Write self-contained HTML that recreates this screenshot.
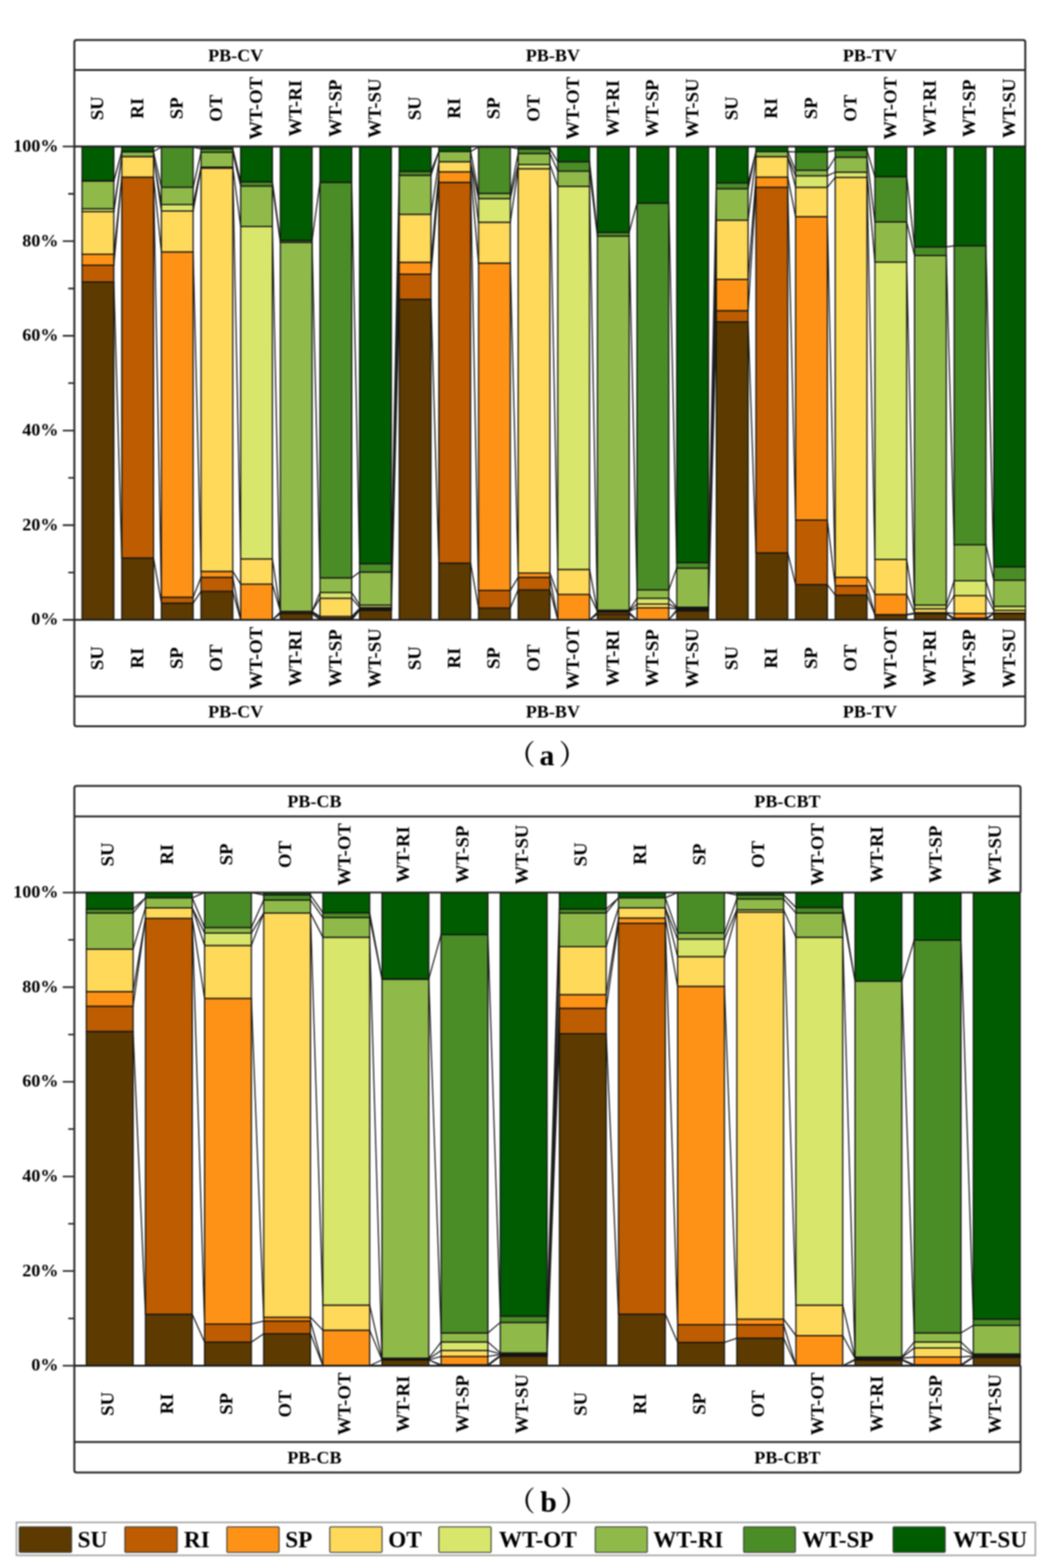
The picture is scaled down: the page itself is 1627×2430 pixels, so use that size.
<!DOCTYPE html>
<html><head><meta charset="utf-8"><title>Chart</title><style>html,body{margin:0;padding:0;background:#fff;}svg{display:block;filter:blur(1px);}</style></head><body>
<svg width="1627" height="2430" viewBox="0 0 1627 2430">
<rect width="1627" height="2430" fill="#fff"/>
<path d="M115.2,227 V65.4 Q115.2,61.9 118.7,61.9 H1585.2 Q1588.7,61.9 1588.7,65.4 V227" fill="none" stroke="#282828" stroke-width="3.0"/>
<path d="M115.2,108.6 H1588.7" stroke="#282828" stroke-width="3.0"/>
<path d="M115.2,960.6 V1122.0 Q115.2,1125.5 118.7,1125.5 H1585.2 Q1588.7,1125.5 1588.7,1122.0 V960.6" fill="none" stroke="#282828" stroke-width="3.0"/>
<path d="M115.2,1079.2 H1588.7" stroke="#282828" stroke-width="3.0"/>
<path d="M176.4,437.0L188.7,864.8M176.4,411.0L188.7,274.5M176.4,394.0L188.7,274.5M176.4,328.0L188.7,242.6M176.4,323.5L188.7,242.6M176.4,280.5L188.7,235.3M176.4,280.0L188.7,234.8M237.9,864.8L250.1,934.7M237.9,274.5L250.1,925.5M237.9,274.5L250.1,390.4M237.9,242.6L250.1,327.0M237.9,242.6L250.1,317.0M237.9,235.3L250.1,290.2M237.9,234.8L250.1,228.0M299.3,934.7L311.5,916.4M299.3,925.5L311.5,894.7M299.3,390.4L311.5,885.5M299.3,327.0L311.5,260.5M299.3,317.0L311.5,259.0M299.3,290.2L311.5,236.0M299.3,228.0L311.5,230.5M360.7,916.4L372.9,960.6M360.7,894.7L372.9,960.6M360.7,885.5L372.9,905.2M360.7,260.5L372.9,866.2M360.7,259.0L372.9,351.0M360.7,236.0L372.9,288.3M360.7,230.5L372.9,281.8M422.1,960.6L434.4,951.0M422.1,960.6L434.4,948.5M422.1,905.2L434.4,947.5M422.1,866.2L434.4,947.5M422.1,351.0L434.4,947.5M422.1,288.3L434.4,375.5M422.1,281.8L434.4,372.5M483.6,951.0L495.8,960.6M483.6,948.5L495.8,958.0M483.6,947.5L495.8,955.3M483.6,947.5L495.8,927.2M483.6,947.5L495.8,918.2M483.6,375.5L495.8,895.5M483.6,372.5L495.8,282.6M545.0,960.6L557.2,946.0M545.0,958.0L557.2,944.5M545.0,955.3L557.2,943.0M545.0,927.2L557.2,941.5M545.0,918.2L557.2,937.7M545.0,895.5L557.2,886.5M545.0,282.6L557.2,873.5M606.4,946.0L618.6,463.9M606.4,944.5L618.6,424.9M606.4,943.0L618.6,406.5M606.4,941.5L618.6,332.2M606.4,937.7L618.6,332.2M606.4,886.5L618.6,271.7M606.4,873.5L618.6,265.5M667.8,463.9L680.0,872.7M667.8,424.9L680.0,282.6M667.8,406.5L680.0,266.3M667.8,332.2L680.0,250.6M667.8,332.2L680.0,250.6M667.8,271.7L680.0,234.6M667.8,265.5L680.0,234.6M729.2,872.7L741.5,942.3M729.2,282.6L741.5,915.0M729.2,266.3L741.5,407.8M729.2,250.6L741.5,344.4M729.2,250.6L741.5,307.8M729.2,234.6L741.5,299.7M729.2,234.6L741.5,228.0M790.7,942.3L802.9,914.2M790.7,915.0L802.9,894.7M790.7,407.8L802.9,888.1M790.7,344.4L802.9,261.5M790.7,307.8L802.9,255.0M790.7,299.7L802.9,237.9M790.7,228.0L802.9,230.6M852.1,914.2L864.3,960.6M852.1,894.7L864.3,960.6M852.1,888.1L864.3,921.2M852.1,261.5L864.3,882.5M852.1,255.0L864.3,288.8M852.1,237.9L864.3,265.2M852.1,230.6L864.3,250.6M913.5,960.6L925.7,952.0M913.5,960.6L925.7,949.0M913.5,921.2L925.7,947.5M913.5,882.5L925.7,946.5M913.5,288.8L925.7,945.6M913.5,265.2L925.7,366.0M913.5,250.6L925.7,360.2M974.9,952.0L987.1,960.6M974.9,949.0L987.1,960.6M974.9,947.5L987.1,942.0M974.9,946.5L987.1,936.1M974.9,945.6L987.1,927.2M974.9,366.0L987.1,914.2M974.9,360.2L987.1,314.8M1036.3,960.6L1048.6,946.7M1036.3,960.6L1048.6,945.0M1036.3,942.0L1048.6,943.5M1036.3,936.1L1048.6,942.0M1036.3,927.2L1048.6,941.0M1036.3,914.2L1048.6,880.5M1036.3,314.8L1048.6,871.9M1097.8,946.7L1110.0,498.9M1097.8,945.0L1110.0,481.5M1097.8,943.5L1110.0,433.0M1097.8,942.0L1110.0,341.2M1097.8,941.0L1110.0,341.2M1097.8,880.5L1110.0,292.4M1097.8,871.9L1110.0,283.4M1159.2,498.9L1171.4,856.8M1159.2,481.5L1171.4,290.3M1159.2,433.0L1171.4,274.5M1159.2,341.2L1171.4,242.8M1159.2,341.2L1171.4,242.8M1159.2,292.4L1171.4,235.0M1159.2,283.4L1171.4,235.0M1220.6,856.8L1232.8,906.0M1220.6,290.3L1232.8,806.0M1220.6,274.5L1232.8,335.8M1220.6,242.8L1232.8,290.3M1220.6,242.8L1232.8,272.4M1220.6,235.0L1232.8,263.9M1220.6,235.0L1232.8,235.4M1282.0,906.0L1294.2,922.3M1282.0,806.0L1294.2,907.7M1282.0,335.8L1294.2,894.7M1282.0,290.3L1294.2,275.0M1282.0,272.4L1294.2,266.8M1282.0,263.9L1294.2,243.6M1282.0,235.4L1294.2,233.0M1343.4,922.3L1355.7,953.0M1343.4,907.7L1355.7,952.5M1343.4,894.7L1355.7,921.2M1343.4,275.0L1355.7,867.0M1343.4,266.8L1355.7,406.2M1343.4,243.6L1355.7,343.9M1343.4,233.0L1355.7,273.7M1404.9,953.0L1417.1,951.0M1404.9,952.5L1417.1,950.0M1404.9,921.2L1417.1,949.5M1404.9,867.0L1417.1,943.4M1404.9,406.2L1417.1,937.7M1404.9,343.9L1417.1,396.0M1404.9,273.7L1417.1,382.6M1466.3,951.0L1478.5,960.6M1466.3,950.0L1478.5,958.0M1466.3,949.5L1478.5,950.8M1466.3,943.4L1478.5,923.1M1466.3,937.7L1478.5,900.0M1466.3,396.0L1478.5,844.2M1466.3,382.6L1478.5,381.0M1527.7,960.6L1539.9,950.8M1527.7,958.0L1539.9,950.4M1527.7,950.8L1539.9,950.0M1527.7,923.1L1539.9,945.9M1527.7,900.0L1539.9,939.7M1527.7,844.2L1539.9,899.2M1527.7,381.0L1539.9,878.4" fill="none" stroke="#1e1e1e" stroke-width="1.8"/>
<rect x="127.2" y="437.0" width="49.2" height="523.6" fill="#5c3a00" stroke="#141414" stroke-width="1.9"/>
<rect x="127.2" y="411.0" width="49.2" height="26.0" fill="#bd5c00" stroke="#141414" stroke-width="1.9"/>
<rect x="127.2" y="394.0" width="49.2" height="17.0" fill="#fd9216" stroke="#141414" stroke-width="1.9"/>
<rect x="127.2" y="328.0" width="49.2" height="66.0" fill="#fed95a" stroke="#141414" stroke-width="1.9"/>
<rect x="127.2" y="323.5" width="49.2" height="4.5" fill="#d8e66c" stroke="#141414" stroke-width="1.9"/>
<rect x="127.2" y="280.5" width="49.2" height="43.0" fill="#8fba4a" stroke="#141414" stroke-width="1.9"/>
<rect x="127.2" y="280.0" width="49.2" height="0.5" fill="#4a8c26" stroke="#141414" stroke-width="1.9"/>
<rect x="127.2" y="227.0" width="49.2" height="53.0" fill="#005c00" stroke="#141414" stroke-width="1.9"/>
<rect x="188.7" y="864.8" width="49.2" height="95.8" fill="#5c3a00" stroke="#141414" stroke-width="1.9"/>
<rect x="188.7" y="274.5" width="49.2" height="590.3" fill="#bd5c00" stroke="#141414" stroke-width="1.9"/>
<rect x="188.7" y="242.6" width="49.2" height="31.9" fill="#fed95a" stroke="#141414" stroke-width="1.9"/>
<rect x="188.7" y="235.3" width="49.2" height="7.3" fill="#8fba4a" stroke="#141414" stroke-width="1.9"/>
<rect x="188.7" y="234.8" width="49.2" height="0.5" fill="#4a8c26" stroke="#141414" stroke-width="1.9"/>
<rect x="188.7" y="227.0" width="49.2" height="7.8" fill="#005c00" stroke="#141414" stroke-width="1.9"/>
<rect x="250.1" y="934.7" width="49.2" height="25.9" fill="#5c3a00" stroke="#141414" stroke-width="1.9"/>
<rect x="250.1" y="925.5" width="49.2" height="9.2" fill="#bd5c00" stroke="#141414" stroke-width="1.9"/>
<rect x="250.1" y="390.4" width="49.2" height="535.1" fill="#fd9216" stroke="#141414" stroke-width="1.9"/>
<rect x="250.1" y="327.0" width="49.2" height="63.4" fill="#fed95a" stroke="#141414" stroke-width="1.9"/>
<rect x="250.1" y="317.0" width="49.2" height="10.0" fill="#d8e66c" stroke="#141414" stroke-width="1.9"/>
<rect x="250.1" y="290.2" width="49.2" height="26.8" fill="#8fba4a" stroke="#141414" stroke-width="1.9"/>
<rect x="250.1" y="228.0" width="49.2" height="62.2" fill="#4a8c26" stroke="#141414" stroke-width="1.9"/>
<rect x="250.1" y="227.0" width="49.2" height="1.0" fill="#005c00" stroke="#141414" stroke-width="1.9"/>
<rect x="311.5" y="916.4" width="49.2" height="44.2" fill="#5c3a00" stroke="#141414" stroke-width="1.9"/>
<rect x="311.5" y="894.7" width="49.2" height="21.7" fill="#bd5c00" stroke="#141414" stroke-width="1.9"/>
<rect x="311.5" y="885.5" width="49.2" height="9.2" fill="#fd9216" stroke="#141414" stroke-width="1.9"/>
<rect x="311.5" y="260.5" width="49.2" height="625.0" fill="#fed95a" stroke="#141414" stroke-width="1.9"/>
<rect x="311.5" y="259.0" width="49.2" height="1.5" fill="#d8e66c" stroke="#141414" stroke-width="1.9"/>
<rect x="311.5" y="236.0" width="49.2" height="23.0" fill="#8fba4a" stroke="#141414" stroke-width="1.9"/>
<rect x="311.5" y="230.5" width="49.2" height="5.5" fill="#4a8c26" stroke="#141414" stroke-width="1.9"/>
<rect x="311.5" y="227.0" width="49.2" height="3.5" fill="#005c00" stroke="#141414" stroke-width="1.9"/>
<rect x="372.9" y="905.2" width="49.2" height="55.4" fill="#fd9216" stroke="#141414" stroke-width="1.9"/>
<rect x="372.9" y="866.2" width="49.2" height="39.0" fill="#fed95a" stroke="#141414" stroke-width="1.9"/>
<rect x="372.9" y="351.0" width="49.2" height="515.2" fill="#d8e66c" stroke="#141414" stroke-width="1.9"/>
<rect x="372.9" y="288.3" width="49.2" height="62.7" fill="#8fba4a" stroke="#141414" stroke-width="1.9"/>
<rect x="372.9" y="281.8" width="49.2" height="6.5" fill="#4a8c26" stroke="#141414" stroke-width="1.9"/>
<rect x="372.9" y="227.0" width="49.2" height="54.8" fill="#005c00" stroke="#141414" stroke-width="1.9"/>
<rect x="434.4" y="951.0" width="49.2" height="9.6" fill="#5c3a00" stroke="#141414" stroke-width="1.9"/>
<rect x="434.4" y="948.5" width="49.2" height="2.5" fill="#bd5c00" stroke="#141414" stroke-width="1.9"/>
<rect x="434.4" y="947.5" width="49.2" height="1.0" fill="#fd9216" stroke="#141414" stroke-width="1.9"/>
<rect x="434.4" y="375.5" width="49.2" height="572.0" fill="#8fba4a" stroke="#141414" stroke-width="1.9"/>
<rect x="434.4" y="372.5" width="49.2" height="3.0" fill="#4a8c26" stroke="#141414" stroke-width="1.9"/>
<rect x="434.4" y="227.0" width="49.2" height="145.5" fill="#005c00" stroke="#141414" stroke-width="1.9"/>
<rect x="495.8" y="958.0" width="49.2" height="2.6" fill="#bd5c00" stroke="#141414" stroke-width="1.9"/>
<rect x="495.8" y="955.3" width="49.2" height="2.7" fill="#fd9216" stroke="#141414" stroke-width="1.9"/>
<rect x="495.8" y="927.2" width="49.2" height="28.1" fill="#fed95a" stroke="#141414" stroke-width="1.9"/>
<rect x="495.8" y="918.2" width="49.2" height="9.0" fill="#d8e66c" stroke="#141414" stroke-width="1.9"/>
<rect x="495.8" y="895.5" width="49.2" height="22.7" fill="#8fba4a" stroke="#141414" stroke-width="1.9"/>
<rect x="495.8" y="282.6" width="49.2" height="612.9" fill="#4a8c26" stroke="#141414" stroke-width="1.9"/>
<rect x="495.8" y="227.0" width="49.2" height="55.6" fill="#005c00" stroke="#141414" stroke-width="1.9"/>
<rect x="557.2" y="946.0" width="49.2" height="14.6" fill="#5c3a00" stroke="#141414" stroke-width="1.9"/>
<rect x="557.2" y="944.5" width="49.2" height="1.5" fill="#bd5c00" stroke="#141414" stroke-width="1.9"/>
<rect x="557.2" y="943.0" width="49.2" height="1.5" fill="#fd9216" stroke="#141414" stroke-width="1.9"/>
<rect x="557.2" y="941.5" width="49.2" height="1.5" fill="#fed95a" stroke="#141414" stroke-width="1.9"/>
<rect x="557.2" y="937.7" width="49.2" height="3.8" fill="#d8e66c" stroke="#141414" stroke-width="1.9"/>
<rect x="557.2" y="886.5" width="49.2" height="51.2" fill="#8fba4a" stroke="#141414" stroke-width="1.9"/>
<rect x="557.2" y="873.5" width="49.2" height="13.0" fill="#4a8c26" stroke="#141414" stroke-width="1.9"/>
<rect x="557.2" y="227.0" width="49.2" height="646.5" fill="#005c00" stroke="#141414" stroke-width="1.9"/>
<rect x="618.6" y="463.9" width="49.2" height="496.7" fill="#5c3a00" stroke="#141414" stroke-width="1.9"/>
<rect x="618.6" y="424.9" width="49.2" height="39.0" fill="#bd5c00" stroke="#141414" stroke-width="1.9"/>
<rect x="618.6" y="406.5" width="49.2" height="18.4" fill="#fd9216" stroke="#141414" stroke-width="1.9"/>
<rect x="618.6" y="332.2" width="49.2" height="74.3" fill="#fed95a" stroke="#141414" stroke-width="1.9"/>
<rect x="618.6" y="271.7" width="49.2" height="60.5" fill="#8fba4a" stroke="#141414" stroke-width="1.9"/>
<rect x="618.6" y="265.5" width="49.2" height="6.2" fill="#4a8c26" stroke="#141414" stroke-width="1.9"/>
<rect x="618.6" y="227.0" width="49.2" height="38.5" fill="#005c00" stroke="#141414" stroke-width="1.9"/>
<rect x="680.0" y="872.7" width="49.2" height="87.9" fill="#5c3a00" stroke="#141414" stroke-width="1.9"/>
<rect x="680.0" y="282.6" width="49.2" height="590.1" fill="#bd5c00" stroke="#141414" stroke-width="1.9"/>
<rect x="680.0" y="266.3" width="49.2" height="16.3" fill="#fd9216" stroke="#141414" stroke-width="1.9"/>
<rect x="680.0" y="250.6" width="49.2" height="15.7" fill="#fed95a" stroke="#141414" stroke-width="1.9"/>
<rect x="680.0" y="234.6" width="49.2" height="16.0" fill="#8fba4a" stroke="#141414" stroke-width="1.9"/>
<rect x="680.0" y="227.0" width="49.2" height="7.6" fill="#005c00" stroke="#141414" stroke-width="1.9"/>
<rect x="741.5" y="942.3" width="49.2" height="18.3" fill="#5c3a00" stroke="#141414" stroke-width="1.9"/>
<rect x="741.5" y="915.0" width="49.2" height="27.3" fill="#bd5c00" stroke="#141414" stroke-width="1.9"/>
<rect x="741.5" y="407.8" width="49.2" height="507.2" fill="#fd9216" stroke="#141414" stroke-width="1.9"/>
<rect x="741.5" y="344.4" width="49.2" height="63.4" fill="#fed95a" stroke="#141414" stroke-width="1.9"/>
<rect x="741.5" y="307.8" width="49.2" height="36.6" fill="#d8e66c" stroke="#141414" stroke-width="1.9"/>
<rect x="741.5" y="299.7" width="49.2" height="8.1" fill="#8fba4a" stroke="#141414" stroke-width="1.9"/>
<rect x="741.5" y="228.0" width="49.2" height="71.7" fill="#4a8c26" stroke="#141414" stroke-width="1.9"/>
<rect x="741.5" y="227.0" width="49.2" height="1.0" fill="#005c00" stroke="#141414" stroke-width="1.9"/>
<rect x="802.9" y="914.2" width="49.2" height="46.4" fill="#5c3a00" stroke="#141414" stroke-width="1.9"/>
<rect x="802.9" y="894.7" width="49.2" height="19.5" fill="#bd5c00" stroke="#141414" stroke-width="1.9"/>
<rect x="802.9" y="888.1" width="49.2" height="6.6" fill="#fd9216" stroke="#141414" stroke-width="1.9"/>
<rect x="802.9" y="261.5" width="49.2" height="626.6" fill="#fed95a" stroke="#141414" stroke-width="1.9"/>
<rect x="802.9" y="255.0" width="49.2" height="6.5" fill="#d8e66c" stroke="#141414" stroke-width="1.9"/>
<rect x="802.9" y="237.9" width="49.2" height="17.1" fill="#8fba4a" stroke="#141414" stroke-width="1.9"/>
<rect x="802.9" y="230.6" width="49.2" height="7.3" fill="#4a8c26" stroke="#141414" stroke-width="1.9"/>
<rect x="802.9" y="227.0" width="49.2" height="3.6" fill="#005c00" stroke="#141414" stroke-width="1.9"/>
<rect x="864.3" y="921.2" width="49.2" height="39.4" fill="#fd9216" stroke="#141414" stroke-width="1.9"/>
<rect x="864.3" y="882.5" width="49.2" height="38.7" fill="#fed95a" stroke="#141414" stroke-width="1.9"/>
<rect x="864.3" y="288.8" width="49.2" height="593.7" fill="#d8e66c" stroke="#141414" stroke-width="1.9"/>
<rect x="864.3" y="265.2" width="49.2" height="23.6" fill="#8fba4a" stroke="#141414" stroke-width="1.9"/>
<rect x="864.3" y="250.6" width="49.2" height="14.6" fill="#4a8c26" stroke="#141414" stroke-width="1.9"/>
<rect x="864.3" y="227.0" width="49.2" height="23.6" fill="#005c00" stroke="#141414" stroke-width="1.9"/>
<rect x="925.7" y="952.0" width="49.2" height="8.6" fill="#5c3a00" stroke="#141414" stroke-width="1.9"/>
<rect x="925.7" y="949.0" width="49.2" height="3.0" fill="#bd5c00" stroke="#141414" stroke-width="1.9"/>
<rect x="925.7" y="947.5" width="49.2" height="1.5" fill="#fd9216" stroke="#141414" stroke-width="1.9"/>
<rect x="925.7" y="946.5" width="49.2" height="1.0" fill="#fed95a" stroke="#141414" stroke-width="1.9"/>
<rect x="925.7" y="945.6" width="49.2" height="0.9" fill="#d8e66c" stroke="#141414" stroke-width="1.9"/>
<rect x="925.7" y="366.0" width="49.2" height="579.6" fill="#8fba4a" stroke="#141414" stroke-width="1.9"/>
<rect x="925.7" y="360.2" width="49.2" height="5.8" fill="#4a8c26" stroke="#141414" stroke-width="1.9"/>
<rect x="925.7" y="227.0" width="49.2" height="133.2" fill="#005c00" stroke="#141414" stroke-width="1.9"/>
<rect x="987.1" y="942.0" width="49.2" height="18.6" fill="#fd9216" stroke="#141414" stroke-width="1.9"/>
<rect x="987.1" y="936.1" width="49.2" height="5.9" fill="#fed95a" stroke="#141414" stroke-width="1.9"/>
<rect x="987.1" y="927.2" width="49.2" height="8.9" fill="#d8e66c" stroke="#141414" stroke-width="1.9"/>
<rect x="987.1" y="914.2" width="49.2" height="13.0" fill="#8fba4a" stroke="#141414" stroke-width="1.9"/>
<rect x="987.1" y="314.8" width="49.2" height="599.4" fill="#4a8c26" stroke="#141414" stroke-width="1.9"/>
<rect x="987.1" y="227.0" width="49.2" height="87.8" fill="#005c00" stroke="#141414" stroke-width="1.9"/>
<rect x="1048.6" y="946.7" width="49.2" height="13.9" fill="#5c3a00" stroke="#141414" stroke-width="1.9"/>
<rect x="1048.6" y="945.0" width="49.2" height="1.7" fill="#bd5c00" stroke="#141414" stroke-width="1.9"/>
<rect x="1048.6" y="943.5" width="49.2" height="1.5" fill="#fd9216" stroke="#141414" stroke-width="1.9"/>
<rect x="1048.6" y="942.0" width="49.2" height="1.5" fill="#fed95a" stroke="#141414" stroke-width="1.9"/>
<rect x="1048.6" y="941.0" width="49.2" height="1.0" fill="#d8e66c" stroke="#141414" stroke-width="1.9"/>
<rect x="1048.6" y="880.5" width="49.2" height="60.5" fill="#8fba4a" stroke="#141414" stroke-width="1.9"/>
<rect x="1048.6" y="871.9" width="49.2" height="8.6" fill="#4a8c26" stroke="#141414" stroke-width="1.9"/>
<rect x="1048.6" y="227.0" width="49.2" height="644.9" fill="#005c00" stroke="#141414" stroke-width="1.9"/>
<rect x="1110.0" y="498.9" width="49.2" height="461.7" fill="#5c3a00" stroke="#141414" stroke-width="1.9"/>
<rect x="1110.0" y="481.5" width="49.2" height="17.4" fill="#bd5c00" stroke="#141414" stroke-width="1.9"/>
<rect x="1110.0" y="433.0" width="49.2" height="48.5" fill="#fd9216" stroke="#141414" stroke-width="1.9"/>
<rect x="1110.0" y="341.2" width="49.2" height="91.8" fill="#fed95a" stroke="#141414" stroke-width="1.9"/>
<rect x="1110.0" y="292.4" width="49.2" height="48.8" fill="#8fba4a" stroke="#141414" stroke-width="1.9"/>
<rect x="1110.0" y="283.4" width="49.2" height="9.0" fill="#4a8c26" stroke="#141414" stroke-width="1.9"/>
<rect x="1110.0" y="227.0" width="49.2" height="56.4" fill="#005c00" stroke="#141414" stroke-width="1.9"/>
<rect x="1171.4" y="856.8" width="49.2" height="103.8" fill="#5c3a00" stroke="#141414" stroke-width="1.9"/>
<rect x="1171.4" y="290.3" width="49.2" height="566.5" fill="#bd5c00" stroke="#141414" stroke-width="1.9"/>
<rect x="1171.4" y="274.5" width="49.2" height="15.8" fill="#fd9216" stroke="#141414" stroke-width="1.9"/>
<rect x="1171.4" y="242.8" width="49.2" height="31.7" fill="#fed95a" stroke="#141414" stroke-width="1.9"/>
<rect x="1171.4" y="235.0" width="49.2" height="7.8" fill="#8fba4a" stroke="#141414" stroke-width="1.9"/>
<rect x="1171.4" y="227.0" width="49.2" height="8.0" fill="#005c00" stroke="#141414" stroke-width="1.9"/>
<rect x="1232.8" y="906.0" width="49.2" height="54.6" fill="#5c3a00" stroke="#141414" stroke-width="1.9"/>
<rect x="1232.8" y="806.0" width="49.2" height="100.0" fill="#bd5c00" stroke="#141414" stroke-width="1.9"/>
<rect x="1232.8" y="335.8" width="49.2" height="470.2" fill="#fd9216" stroke="#141414" stroke-width="1.9"/>
<rect x="1232.8" y="290.3" width="49.2" height="45.5" fill="#fed95a" stroke="#141414" stroke-width="1.9"/>
<rect x="1232.8" y="272.4" width="49.2" height="17.9" fill="#d8e66c" stroke="#141414" stroke-width="1.9"/>
<rect x="1232.8" y="263.9" width="49.2" height="8.5" fill="#8fba4a" stroke="#141414" stroke-width="1.9"/>
<rect x="1232.8" y="235.4" width="49.2" height="28.5" fill="#4a8c26" stroke="#141414" stroke-width="1.9"/>
<rect x="1232.8" y="227.0" width="49.2" height="8.4" fill="#005c00" stroke="#141414" stroke-width="1.9"/>
<rect x="1294.2" y="922.3" width="49.2" height="38.3" fill="#5c3a00" stroke="#141414" stroke-width="1.9"/>
<rect x="1294.2" y="907.7" width="49.2" height="14.6" fill="#bd5c00" stroke="#141414" stroke-width="1.9"/>
<rect x="1294.2" y="894.7" width="49.2" height="13.0" fill="#fd9216" stroke="#141414" stroke-width="1.9"/>
<rect x="1294.2" y="275.0" width="49.2" height="619.7" fill="#fed95a" stroke="#141414" stroke-width="1.9"/>
<rect x="1294.2" y="266.8" width="49.2" height="8.2" fill="#d8e66c" stroke="#141414" stroke-width="1.9"/>
<rect x="1294.2" y="243.6" width="49.2" height="23.2" fill="#8fba4a" stroke="#141414" stroke-width="1.9"/>
<rect x="1294.2" y="233.0" width="49.2" height="10.6" fill="#4a8c26" stroke="#141414" stroke-width="1.9"/>
<rect x="1294.2" y="227.0" width="49.2" height="6.0" fill="#005c00" stroke="#141414" stroke-width="1.9"/>
<rect x="1355.7" y="953.0" width="49.2" height="7.6" fill="#5c3a00" stroke="#141414" stroke-width="1.9"/>
<rect x="1355.7" y="952.5" width="49.2" height="0.5" fill="#bd5c00" stroke="#141414" stroke-width="1.9"/>
<rect x="1355.7" y="921.2" width="49.2" height="31.3" fill="#fd9216" stroke="#141414" stroke-width="1.9"/>
<rect x="1355.7" y="867.0" width="49.2" height="54.2" fill="#fed95a" stroke="#141414" stroke-width="1.9"/>
<rect x="1355.7" y="406.2" width="49.2" height="460.8" fill="#d8e66c" stroke="#141414" stroke-width="1.9"/>
<rect x="1355.7" y="343.9" width="49.2" height="62.3" fill="#8fba4a" stroke="#141414" stroke-width="1.9"/>
<rect x="1355.7" y="273.7" width="49.2" height="70.2" fill="#4a8c26" stroke="#141414" stroke-width="1.9"/>
<rect x="1355.7" y="227.0" width="49.2" height="46.7" fill="#005c00" stroke="#141414" stroke-width="1.9"/>
<rect x="1417.1" y="951.0" width="49.2" height="9.6" fill="#5c3a00" stroke="#141414" stroke-width="1.9"/>
<rect x="1417.1" y="950.0" width="49.2" height="1.0" fill="#bd5c00" stroke="#141414" stroke-width="1.9"/>
<rect x="1417.1" y="949.5" width="49.2" height="0.5" fill="#fd9216" stroke="#141414" stroke-width="1.9"/>
<rect x="1417.1" y="943.4" width="49.2" height="6.1" fill="#fed95a" stroke="#141414" stroke-width="1.9"/>
<rect x="1417.1" y="937.7" width="49.2" height="5.7" fill="#d8e66c" stroke="#141414" stroke-width="1.9"/>
<rect x="1417.1" y="396.0" width="49.2" height="541.7" fill="#8fba4a" stroke="#141414" stroke-width="1.9"/>
<rect x="1417.1" y="382.6" width="49.2" height="13.4" fill="#4a8c26" stroke="#141414" stroke-width="1.9"/>
<rect x="1417.1" y="227.0" width="49.2" height="155.6" fill="#005c00" stroke="#141414" stroke-width="1.9"/>
<rect x="1478.5" y="958.0" width="49.2" height="2.6" fill="#bd5c00" stroke="#141414" stroke-width="1.9"/>
<rect x="1478.5" y="950.8" width="49.2" height="7.2" fill="#fd9216" stroke="#141414" stroke-width="1.9"/>
<rect x="1478.5" y="923.1" width="49.2" height="27.7" fill="#fed95a" stroke="#141414" stroke-width="1.9"/>
<rect x="1478.5" y="900.0" width="49.2" height="23.1" fill="#d8e66c" stroke="#141414" stroke-width="1.9"/>
<rect x="1478.5" y="844.2" width="49.2" height="55.8" fill="#8fba4a" stroke="#141414" stroke-width="1.9"/>
<rect x="1478.5" y="381.0" width="49.2" height="463.2" fill="#4a8c26" stroke="#141414" stroke-width="1.9"/>
<rect x="1478.5" y="227.0" width="49.2" height="154.0" fill="#005c00" stroke="#141414" stroke-width="1.9"/>
<rect x="1539.9" y="950.8" width="49.2" height="9.8" fill="#5c3a00" stroke="#141414" stroke-width="1.9"/>
<rect x="1539.9" y="950.4" width="49.2" height="0.4" fill="#bd5c00" stroke="#141414" stroke-width="1.9"/>
<rect x="1539.9" y="950.0" width="49.2" height="0.4" fill="#fd9216" stroke="#141414" stroke-width="1.9"/>
<rect x="1539.9" y="945.9" width="49.2" height="4.1" fill="#fed95a" stroke="#141414" stroke-width="1.9"/>
<rect x="1539.9" y="939.7" width="49.2" height="6.2" fill="#d8e66c" stroke="#141414" stroke-width="1.9"/>
<rect x="1539.9" y="899.2" width="49.2" height="40.5" fill="#8fba4a" stroke="#141414" stroke-width="1.9"/>
<rect x="1539.9" y="878.4" width="49.2" height="20.8" fill="#4a8c26" stroke="#141414" stroke-width="1.9"/>
<rect x="1539.9" y="227.0" width="49.2" height="651.4" fill="#005c00" stroke="#141414" stroke-width="1.9"/>
<path d="M115.2,227 V960.6" stroke="#282828" stroke-width="3.0"/>
<path d="M115.2,227 H1588.7 M115.2,960.6 H1588.7" stroke="#1e1e1e" stroke-width="2.8"/>
<path d="M97.2,960.6H115.2M105.7,887.2H115.2M97.2,813.9H115.2M105.7,740.5H115.2M97.2,667.2H115.2M105.7,593.8H115.2M97.2,520.4H115.2M105.7,447.1H115.2M97.2,373.7H115.2M105.7,300.4H115.2M97.2,227.0H115.2" stroke="#282828" stroke-width="2.6"/>
<text x="90.5" y="968.4" text-anchor="end" font-size="28" font-family="'Liberation Serif','Times New Roman',serif" font-weight="bold">0%</text>
<text x="90.5" y="821.7" text-anchor="end" font-size="28" font-family="'Liberation Serif','Times New Roman',serif" font-weight="bold">20%</text>
<text x="90.5" y="675.0" text-anchor="end" font-size="28" font-family="'Liberation Serif','Times New Roman',serif" font-weight="bold">40%</text>
<text x="90.5" y="528.2" text-anchor="end" font-size="28" font-family="'Liberation Serif','Times New Roman',serif" font-weight="bold">60%</text>
<text x="90.5" y="381.5" text-anchor="end" font-size="28" font-family="'Liberation Serif','Times New Roman',serif" font-weight="bold">80%</text>
<text x="90.5" y="234.8" text-anchor="end" font-size="28" font-family="'Liberation Serif','Times New Roman',serif" font-weight="bold">100%</text>
<text transform="translate(150.3,167.8) rotate(-90)" text-anchor="middle" y="9.8" font-size="29" font-family="'Liberation Serif','Times New Roman',serif" font-weight="bold">SU</text>
<text transform="translate(150.3,1019.9) rotate(-90)" text-anchor="middle" y="9.8" font-size="29" font-family="'Liberation Serif','Times New Roman',serif" font-weight="bold">SU</text>
<text transform="translate(211.8,167.8) rotate(-90)" text-anchor="middle" y="9.8" font-size="29" font-family="'Liberation Serif','Times New Roman',serif" font-weight="bold">RI</text>
<text transform="translate(211.8,1019.9) rotate(-90)" text-anchor="middle" y="9.8" font-size="29" font-family="'Liberation Serif','Times New Roman',serif" font-weight="bold">RI</text>
<text transform="translate(273.2,167.8) rotate(-90)" text-anchor="middle" y="9.8" font-size="29" font-family="'Liberation Serif','Times New Roman',serif" font-weight="bold">SP</text>
<text transform="translate(273.2,1019.9) rotate(-90)" text-anchor="middle" y="9.8" font-size="29" font-family="'Liberation Serif','Times New Roman',serif" font-weight="bold">SP</text>
<text transform="translate(334.6,167.8) rotate(-90)" text-anchor="middle" y="9.8" font-size="29" font-family="'Liberation Serif','Times New Roman',serif" font-weight="bold">OT</text>
<text transform="translate(334.6,1019.9) rotate(-90)" text-anchor="middle" y="9.8" font-size="29" font-family="'Liberation Serif','Times New Roman',serif" font-weight="bold">OT</text>
<text transform="translate(396.0,167.8) rotate(-90)" text-anchor="middle" y="9.8" font-size="29" font-family="'Liberation Serif','Times New Roman',serif" font-weight="bold">WT-OT</text>
<text transform="translate(396.0,1019.9) rotate(-90)" text-anchor="middle" y="9.8" font-size="29" font-family="'Liberation Serif','Times New Roman',serif" font-weight="bold">WT-OT</text>
<text transform="translate(457.5,167.8) rotate(-90)" text-anchor="middle" y="9.8" font-size="29" font-family="'Liberation Serif','Times New Roman',serif" font-weight="bold">WT-RI</text>
<text transform="translate(457.5,1019.9) rotate(-90)" text-anchor="middle" y="9.8" font-size="29" font-family="'Liberation Serif','Times New Roman',serif" font-weight="bold">WT-RI</text>
<text transform="translate(518.9,167.8) rotate(-90)" text-anchor="middle" y="9.8" font-size="29" font-family="'Liberation Serif','Times New Roman',serif" font-weight="bold">WT-SP</text>
<text transform="translate(518.9,1019.9) rotate(-90)" text-anchor="middle" y="9.8" font-size="29" font-family="'Liberation Serif','Times New Roman',serif" font-weight="bold">WT-SP</text>
<text transform="translate(580.3,167.8) rotate(-90)" text-anchor="middle" y="9.8" font-size="29" font-family="'Liberation Serif','Times New Roman',serif" font-weight="bold">WT-SU</text>
<text transform="translate(580.3,1019.9) rotate(-90)" text-anchor="middle" y="9.8" font-size="29" font-family="'Liberation Serif','Times New Roman',serif" font-weight="bold">WT-SU</text>
<text transform="translate(641.7,167.8) rotate(-90)" text-anchor="middle" y="9.8" font-size="29" font-family="'Liberation Serif','Times New Roman',serif" font-weight="bold">SU</text>
<text transform="translate(641.7,1019.9) rotate(-90)" text-anchor="middle" y="9.8" font-size="29" font-family="'Liberation Serif','Times New Roman',serif" font-weight="bold">SU</text>
<text transform="translate(703.1,167.8) rotate(-90)" text-anchor="middle" y="9.8" font-size="29" font-family="'Liberation Serif','Times New Roman',serif" font-weight="bold">RI</text>
<text transform="translate(703.1,1019.9) rotate(-90)" text-anchor="middle" y="9.8" font-size="29" font-family="'Liberation Serif','Times New Roman',serif" font-weight="bold">RI</text>
<text transform="translate(764.6,167.8) rotate(-90)" text-anchor="middle" y="9.8" font-size="29" font-family="'Liberation Serif','Times New Roman',serif" font-weight="bold">SP</text>
<text transform="translate(764.6,1019.9) rotate(-90)" text-anchor="middle" y="9.8" font-size="29" font-family="'Liberation Serif','Times New Roman',serif" font-weight="bold">SP</text>
<text transform="translate(826.0,167.8) rotate(-90)" text-anchor="middle" y="9.8" font-size="29" font-family="'Liberation Serif','Times New Roman',serif" font-weight="bold">OT</text>
<text transform="translate(826.0,1019.9) rotate(-90)" text-anchor="middle" y="9.8" font-size="29" font-family="'Liberation Serif','Times New Roman',serif" font-weight="bold">OT</text>
<text transform="translate(887.4,167.8) rotate(-90)" text-anchor="middle" y="9.8" font-size="29" font-family="'Liberation Serif','Times New Roman',serif" font-weight="bold">WT-OT</text>
<text transform="translate(887.4,1019.9) rotate(-90)" text-anchor="middle" y="9.8" font-size="29" font-family="'Liberation Serif','Times New Roman',serif" font-weight="bold">WT-OT</text>
<text transform="translate(948.8,167.8) rotate(-90)" text-anchor="middle" y="9.8" font-size="29" font-family="'Liberation Serif','Times New Roman',serif" font-weight="bold">WT-RI</text>
<text transform="translate(948.8,1019.9) rotate(-90)" text-anchor="middle" y="9.8" font-size="29" font-family="'Liberation Serif','Times New Roman',serif" font-weight="bold">WT-RI</text>
<text transform="translate(1010.2,167.8) rotate(-90)" text-anchor="middle" y="9.8" font-size="29" font-family="'Liberation Serif','Times New Roman',serif" font-weight="bold">WT-SP</text>
<text transform="translate(1010.2,1019.9) rotate(-90)" text-anchor="middle" y="9.8" font-size="29" font-family="'Liberation Serif','Times New Roman',serif" font-weight="bold">WT-SP</text>
<text transform="translate(1071.7,167.8) rotate(-90)" text-anchor="middle" y="9.8" font-size="29" font-family="'Liberation Serif','Times New Roman',serif" font-weight="bold">WT-SU</text>
<text transform="translate(1071.7,1019.9) rotate(-90)" text-anchor="middle" y="9.8" font-size="29" font-family="'Liberation Serif','Times New Roman',serif" font-weight="bold">WT-SU</text>
<text transform="translate(1133.1,167.8) rotate(-90)" text-anchor="middle" y="9.8" font-size="29" font-family="'Liberation Serif','Times New Roman',serif" font-weight="bold">SU</text>
<text transform="translate(1133.1,1019.9) rotate(-90)" text-anchor="middle" y="9.8" font-size="29" font-family="'Liberation Serif','Times New Roman',serif" font-weight="bold">SU</text>
<text transform="translate(1194.5,167.8) rotate(-90)" text-anchor="middle" y="9.8" font-size="29" font-family="'Liberation Serif','Times New Roman',serif" font-weight="bold">RI</text>
<text transform="translate(1194.5,1019.9) rotate(-90)" text-anchor="middle" y="9.8" font-size="29" font-family="'Liberation Serif','Times New Roman',serif" font-weight="bold">RI</text>
<text transform="translate(1255.9,167.8) rotate(-90)" text-anchor="middle" y="9.8" font-size="29" font-family="'Liberation Serif','Times New Roman',serif" font-weight="bold">SP</text>
<text transform="translate(1255.9,1019.9) rotate(-90)" text-anchor="middle" y="9.8" font-size="29" font-family="'Liberation Serif','Times New Roman',serif" font-weight="bold">SP</text>
<text transform="translate(1317.3,167.8) rotate(-90)" text-anchor="middle" y="9.8" font-size="29" font-family="'Liberation Serif','Times New Roman',serif" font-weight="bold">OT</text>
<text transform="translate(1317.3,1019.9) rotate(-90)" text-anchor="middle" y="9.8" font-size="29" font-family="'Liberation Serif','Times New Roman',serif" font-weight="bold">OT</text>
<text transform="translate(1378.8,167.8) rotate(-90)" text-anchor="middle" y="9.8" font-size="29" font-family="'Liberation Serif','Times New Roman',serif" font-weight="bold">WT-OT</text>
<text transform="translate(1378.8,1019.9) rotate(-90)" text-anchor="middle" y="9.8" font-size="29" font-family="'Liberation Serif','Times New Roman',serif" font-weight="bold">WT-OT</text>
<text transform="translate(1440.2,167.8) rotate(-90)" text-anchor="middle" y="9.8" font-size="29" font-family="'Liberation Serif','Times New Roman',serif" font-weight="bold">WT-RI</text>
<text transform="translate(1440.2,1019.9) rotate(-90)" text-anchor="middle" y="9.8" font-size="29" font-family="'Liberation Serif','Times New Roman',serif" font-weight="bold">WT-RI</text>
<text transform="translate(1501.6,167.8) rotate(-90)" text-anchor="middle" y="9.8" font-size="29" font-family="'Liberation Serif','Times New Roman',serif" font-weight="bold">WT-SP</text>
<text transform="translate(1501.6,1019.9) rotate(-90)" text-anchor="middle" y="9.8" font-size="29" font-family="'Liberation Serif','Times New Roman',serif" font-weight="bold">WT-SP</text>
<text transform="translate(1563.0,167.8) rotate(-90)" text-anchor="middle" y="9.8" font-size="29" font-family="'Liberation Serif','Times New Roman',serif" font-weight="bold">WT-SU</text>
<text transform="translate(1563.0,1019.9) rotate(-90)" text-anchor="middle" y="9.8" font-size="29" font-family="'Liberation Serif','Times New Roman',serif" font-weight="bold">WT-SU</text>
<text x="365.3" y="94.8" text-anchor="middle" font-size="28" font-family="'Liberation Serif','Times New Roman',serif" font-weight="bold">PB-CV</text>
<text x="365.3" y="1111.8" text-anchor="middle" font-size="28" font-family="'Liberation Serif','Times New Roman',serif" font-weight="bold">PB-CV</text>
<text x="856.7" y="94.8" text-anchor="middle" font-size="28" font-family="'Liberation Serif','Times New Roman',serif" font-weight="bold">PB-BV</text>
<text x="856.7" y="1111.8" text-anchor="middle" font-size="28" font-family="'Liberation Serif','Times New Roman',serif" font-weight="bold">PB-BV</text>
<text x="1348.0" y="94.8" text-anchor="middle" font-size="28" font-family="'Liberation Serif','Times New Roman',serif" font-weight="bold">PB-TV</text>
<text x="1348.0" y="1111.8" text-anchor="middle" font-size="28" font-family="'Liberation Serif','Times New Roman',serif" font-weight="bold">PB-TV</text>
<path d="M115.2,1383.2 V1221.4 Q115.2,1217.9 118.7,1217.9 H1577.8 Q1581.3,1217.9 1581.3,1221.4 V1383.2" fill="none" stroke="#282828" stroke-width="3.0"/>
<path d="M115.2,1265.2 H1581.3" stroke="#282828" stroke-width="3.0"/>
<path d="M115.2,2116.5 V2278.5 Q115.2,2282 118.7,2282 H1577.8 Q1581.3,2282 1581.3,2278.5 V2116.5" fill="none" stroke="#282828" stroke-width="3.0"/>
<path d="M115.2,2234.8 H1581.3" stroke="#282828" stroke-width="3.0"/>
<path d="M206.2,1598.5L225.4,2036.8M206.2,1559.4L225.4,1423.2M206.2,1536.8L225.4,1423.2M206.2,1470.9L225.4,1406.9M206.2,1470.9L225.4,1406.9M206.2,1415.0L225.4,1391.3M206.2,1408.8L225.4,1391.3M297.9,2036.8L317.0,2079.9M297.9,1423.2L317.0,2051.9M297.9,1423.2L317.0,1547.3M297.9,1406.9L317.0,1465.3M297.9,1406.9L317.0,1446.0M297.9,1391.3L317.0,1437.4M297.9,1391.3L317.0,1383.2M389.5,2079.9L408.6,2067.0M389.5,2051.9L408.6,2047.3M389.5,1547.3L408.6,2041.4M389.5,1465.3L408.6,1415.0M389.5,1446.0L408.6,1415.0M389.5,1437.4L408.6,1394.8M389.5,1383.2L408.6,1387.0M481.1,2067.0L500.3,2116.5M481.1,2047.3L500.3,2116.5M481.1,2041.4L500.3,2061.5M481.1,1415.0L500.3,2022.6M481.1,1415.0L500.3,1452.5M481.1,1394.8L500.3,1422.0M481.1,1387.0L500.3,1414.6M572.8,2116.5L591.9,2107.5M572.8,2116.5L591.9,2107.5M572.8,2061.5L591.9,2107.5M572.8,2022.6L591.9,2106.0M572.8,1452.5L591.9,2104.8M572.8,1422.0L591.9,1517.5M572.8,1414.6L591.9,1517.0M664.4,2107.5L683.5,2116.5M664.4,2107.5L683.5,2115.0M664.4,2107.5L683.5,2102.2M664.4,2106.0L683.5,2092.9M664.4,2104.8L683.5,2079.7M664.4,1517.5L683.5,2065.7M664.4,1517.0L683.5,1448.3M756.0,2116.5L775.2,2102.0M756.0,2115.0L775.2,2100.5M756.0,2102.2L775.2,2099.0M756.0,2092.9L775.2,2098.0M756.0,2079.7L775.2,2096.7M756.0,2065.7L775.2,2049.4M756.0,1448.3L775.2,2039.6M847.7,2102.0L866.8,1602.0M847.7,2100.5L866.8,1562.6M847.7,2099.0L866.8,1541.4M847.7,2098.0L866.8,1467.0M847.7,2096.7L866.8,1467.0M847.7,2049.4L866.8,1415.0M847.7,2039.6L866.8,1408.8M939.3,1602.0L958.4,2036.6M939.3,1562.6L958.4,1430.9M939.3,1541.4L958.4,1422.7M939.3,1467.0L958.4,1406.9M939.3,1467.0L958.4,1406.9M939.3,1415.0L958.4,1391.3M939.3,1408.8L958.4,1391.3M1030.9,2036.6L1050.0,2080.4M1030.9,1430.9L1050.0,2052.9M1030.9,1422.7L1050.0,1528.6M1030.9,1406.9L1050.0,1482.5M1030.9,1406.9L1050.0,1455.3M1030.9,1391.3L1050.0,1446.0M1030.9,1391.3L1050.0,1383.2M1122.5,2080.4L1141.7,2073.8M1122.5,2052.9L1141.7,2052.9M1122.5,1528.6L1141.7,2044.3M1122.5,1482.5L1141.7,1413.4M1122.5,1455.3L1141.7,1410.0M1122.5,1446.0L1141.7,1393.2M1122.5,1383.2L1141.7,1387.0M1214.2,2073.8L1233.3,2116.5M1214.2,2052.9L1233.3,2116.5M1214.2,2044.3L1233.3,2069.9M1214.2,1413.4L1233.3,2022.6M1214.2,1410.0L1233.3,1452.5M1214.2,1393.2L1233.3,1415.0M1214.2,1387.0L1233.3,1406.4M1305.8,2116.5L1324.9,2108.0M1305.8,2116.5L1324.9,2106.5M1305.8,2069.9L1324.9,2105.0M1305.8,2022.6L1324.9,2104.0M1305.8,1452.5L1324.9,2103.0M1305.8,1415.0L1324.9,1520.5M1305.8,1406.4L1324.9,1520.5M1397.4,2108.0L1416.6,2116.5M1397.4,2106.5L1416.6,2115.0M1397.4,2105.0L1416.6,2103.0M1397.4,2104.0L1416.6,2089.0M1397.4,2103.0L1416.6,2079.7M1397.4,1520.5L1416.6,2065.7M1397.4,1520.5L1416.6,1457.0M1489.1,2116.5L1508.2,2103.4M1489.1,2115.0L1508.2,2102.5M1489.1,2103.0L1508.2,2101.5M1489.1,2089.0L1508.2,2100.0M1489.1,2079.7L1508.2,2098.3M1489.1,2065.7L1508.2,2054.0M1489.1,1457.0L1508.2,2044.3" fill="none" stroke="#1e1e1e" stroke-width="1.8"/>
<rect x="133.8" y="1598.5" width="72.5" height="518.0" fill="#5c3a00" stroke="#141414" stroke-width="1.9"/>
<rect x="133.8" y="1559.4" width="72.5" height="39.1" fill="#bd5c00" stroke="#141414" stroke-width="1.9"/>
<rect x="133.8" y="1536.8" width="72.5" height="22.6" fill="#fd9216" stroke="#141414" stroke-width="1.9"/>
<rect x="133.8" y="1470.9" width="72.5" height="65.9" fill="#fed95a" stroke="#141414" stroke-width="1.9"/>
<rect x="133.8" y="1415.0" width="72.5" height="55.9" fill="#8fba4a" stroke="#141414" stroke-width="1.9"/>
<rect x="133.8" y="1408.8" width="72.5" height="6.2" fill="#4a8c26" stroke="#141414" stroke-width="1.9"/>
<rect x="133.8" y="1383.2" width="72.5" height="25.6" fill="#005c00" stroke="#141414" stroke-width="1.9"/>
<rect x="225.4" y="2036.8" width="72.5" height="79.7" fill="#5c3a00" stroke="#141414" stroke-width="1.9"/>
<rect x="225.4" y="1423.2" width="72.5" height="613.6" fill="#bd5c00" stroke="#141414" stroke-width="1.9"/>
<rect x="225.4" y="1406.9" width="72.5" height="16.3" fill="#fed95a" stroke="#141414" stroke-width="1.9"/>
<rect x="225.4" y="1391.3" width="72.5" height="15.6" fill="#8fba4a" stroke="#141414" stroke-width="1.9"/>
<rect x="225.4" y="1383.2" width="72.5" height="8.1" fill="#005c00" stroke="#141414" stroke-width="1.9"/>
<rect x="317.0" y="2079.9" width="72.5" height="36.6" fill="#5c3a00" stroke="#141414" stroke-width="1.9"/>
<rect x="317.0" y="2051.9" width="72.5" height="28.0" fill="#bd5c00" stroke="#141414" stroke-width="1.9"/>
<rect x="317.0" y="1547.3" width="72.5" height="504.6" fill="#fd9216" stroke="#141414" stroke-width="1.9"/>
<rect x="317.0" y="1465.3" width="72.5" height="82.0" fill="#fed95a" stroke="#141414" stroke-width="1.9"/>
<rect x="317.0" y="1446.0" width="72.5" height="19.3" fill="#d8e66c" stroke="#141414" stroke-width="1.9"/>
<rect x="317.0" y="1437.4" width="72.5" height="8.6" fill="#8fba4a" stroke="#141414" stroke-width="1.9"/>
<rect x="317.0" y="1383.2" width="72.5" height="54.2" fill="#4a8c26" stroke="#141414" stroke-width="1.9"/>
<rect x="408.6" y="2067.0" width="72.5" height="49.5" fill="#5c3a00" stroke="#141414" stroke-width="1.9"/>
<rect x="408.6" y="2047.3" width="72.5" height="19.7" fill="#bd5c00" stroke="#141414" stroke-width="1.9"/>
<rect x="408.6" y="2041.4" width="72.5" height="5.9" fill="#fd9216" stroke="#141414" stroke-width="1.9"/>
<rect x="408.6" y="1415.0" width="72.5" height="626.4" fill="#fed95a" stroke="#141414" stroke-width="1.9"/>
<rect x="408.6" y="1394.8" width="72.5" height="20.2" fill="#8fba4a" stroke="#141414" stroke-width="1.9"/>
<rect x="408.6" y="1387.0" width="72.5" height="7.8" fill="#4a8c26" stroke="#141414" stroke-width="1.9"/>
<rect x="408.6" y="1383.2" width="72.5" height="3.8" fill="#005c00" stroke="#141414" stroke-width="1.9"/>
<rect x="500.3" y="2061.5" width="72.5" height="55.0" fill="#fd9216" stroke="#141414" stroke-width="1.9"/>
<rect x="500.3" y="2022.6" width="72.5" height="38.9" fill="#fed95a" stroke="#141414" stroke-width="1.9"/>
<rect x="500.3" y="1452.5" width="72.5" height="570.1" fill="#d8e66c" stroke="#141414" stroke-width="1.9"/>
<rect x="500.3" y="1422.0" width="72.5" height="30.5" fill="#8fba4a" stroke="#141414" stroke-width="1.9"/>
<rect x="500.3" y="1414.6" width="72.5" height="7.4" fill="#4a8c26" stroke="#141414" stroke-width="1.9"/>
<rect x="500.3" y="1383.2" width="72.5" height="31.4" fill="#005c00" stroke="#141414" stroke-width="1.9"/>
<rect x="591.9" y="2107.5" width="72.5" height="9.0" fill="#5c3a00" stroke="#141414" stroke-width="1.9"/>
<rect x="591.9" y="2106.0" width="72.5" height="1.5" fill="#fed95a" stroke="#141414" stroke-width="1.9"/>
<rect x="591.9" y="2104.8" width="72.5" height="1.2" fill="#d8e66c" stroke="#141414" stroke-width="1.9"/>
<rect x="591.9" y="1517.5" width="72.5" height="587.3" fill="#8fba4a" stroke="#141414" stroke-width="1.9"/>
<rect x="591.9" y="1517.0" width="72.5" height="0.5" fill="#4a8c26" stroke="#141414" stroke-width="1.9"/>
<rect x="591.9" y="1383.2" width="72.5" height="133.8" fill="#005c00" stroke="#141414" stroke-width="1.9"/>
<rect x="683.5" y="2115.0" width="72.5" height="1.5" fill="#bd5c00" stroke="#141414" stroke-width="1.9"/>
<rect x="683.5" y="2102.2" width="72.5" height="12.8" fill="#fd9216" stroke="#141414" stroke-width="1.9"/>
<rect x="683.5" y="2092.9" width="72.5" height="9.3" fill="#fed95a" stroke="#141414" stroke-width="1.9"/>
<rect x="683.5" y="2079.7" width="72.5" height="13.2" fill="#d8e66c" stroke="#141414" stroke-width="1.9"/>
<rect x="683.5" y="2065.7" width="72.5" height="14.0" fill="#8fba4a" stroke="#141414" stroke-width="1.9"/>
<rect x="683.5" y="1448.3" width="72.5" height="617.4" fill="#4a8c26" stroke="#141414" stroke-width="1.9"/>
<rect x="683.5" y="1383.2" width="72.5" height="65.1" fill="#005c00" stroke="#141414" stroke-width="1.9"/>
<rect x="775.2" y="2102.0" width="72.5" height="14.5" fill="#5c3a00" stroke="#141414" stroke-width="1.9"/>
<rect x="775.2" y="2100.5" width="72.5" height="1.5" fill="#bd5c00" stroke="#141414" stroke-width="1.9"/>
<rect x="775.2" y="2099.0" width="72.5" height="1.5" fill="#fd9216" stroke="#141414" stroke-width="1.9"/>
<rect x="775.2" y="2098.0" width="72.5" height="1.0" fill="#fed95a" stroke="#141414" stroke-width="1.9"/>
<rect x="775.2" y="2096.7" width="72.5" height="1.3" fill="#d8e66c" stroke="#141414" stroke-width="1.9"/>
<rect x="775.2" y="2049.4" width="72.5" height="47.3" fill="#8fba4a" stroke="#141414" stroke-width="1.9"/>
<rect x="775.2" y="2039.6" width="72.5" height="9.8" fill="#4a8c26" stroke="#141414" stroke-width="1.9"/>
<rect x="775.2" y="1383.2" width="72.5" height="656.4" fill="#005c00" stroke="#141414" stroke-width="1.9"/>
<rect x="866.8" y="1602.0" width="72.5" height="514.5" fill="#5c3a00" stroke="#141414" stroke-width="1.9"/>
<rect x="866.8" y="1562.6" width="72.5" height="39.4" fill="#bd5c00" stroke="#141414" stroke-width="1.9"/>
<rect x="866.8" y="1541.4" width="72.5" height="21.2" fill="#fd9216" stroke="#141414" stroke-width="1.9"/>
<rect x="866.8" y="1467.0" width="72.5" height="74.4" fill="#fed95a" stroke="#141414" stroke-width="1.9"/>
<rect x="866.8" y="1415.0" width="72.5" height="52.0" fill="#8fba4a" stroke="#141414" stroke-width="1.9"/>
<rect x="866.8" y="1408.8" width="72.5" height="6.2" fill="#4a8c26" stroke="#141414" stroke-width="1.9"/>
<rect x="866.8" y="1383.2" width="72.5" height="25.6" fill="#005c00" stroke="#141414" stroke-width="1.9"/>
<rect x="958.4" y="2036.6" width="72.5" height="79.9" fill="#5c3a00" stroke="#141414" stroke-width="1.9"/>
<rect x="958.4" y="1430.9" width="72.5" height="605.7" fill="#bd5c00" stroke="#141414" stroke-width="1.9"/>
<rect x="958.4" y="1422.7" width="72.5" height="8.2" fill="#fd9216" stroke="#141414" stroke-width="1.9"/>
<rect x="958.4" y="1406.9" width="72.5" height="15.8" fill="#fed95a" stroke="#141414" stroke-width="1.9"/>
<rect x="958.4" y="1391.3" width="72.5" height="15.6" fill="#8fba4a" stroke="#141414" stroke-width="1.9"/>
<rect x="958.4" y="1383.2" width="72.5" height="8.1" fill="#005c00" stroke="#141414" stroke-width="1.9"/>
<rect x="1050.0" y="2080.4" width="72.5" height="36.1" fill="#5c3a00" stroke="#141414" stroke-width="1.9"/>
<rect x="1050.0" y="2052.9" width="72.5" height="27.5" fill="#bd5c00" stroke="#141414" stroke-width="1.9"/>
<rect x="1050.0" y="1528.6" width="72.5" height="524.3" fill="#fd9216" stroke="#141414" stroke-width="1.9"/>
<rect x="1050.0" y="1482.5" width="72.5" height="46.1" fill="#fed95a" stroke="#141414" stroke-width="1.9"/>
<rect x="1050.0" y="1455.3" width="72.5" height="27.2" fill="#d8e66c" stroke="#141414" stroke-width="1.9"/>
<rect x="1050.0" y="1446.0" width="72.5" height="9.3" fill="#8fba4a" stroke="#141414" stroke-width="1.9"/>
<rect x="1050.0" y="1383.2" width="72.5" height="62.8" fill="#4a8c26" stroke="#141414" stroke-width="1.9"/>
<rect x="1141.7" y="2073.8" width="72.5" height="42.7" fill="#5c3a00" stroke="#141414" stroke-width="1.9"/>
<rect x="1141.7" y="2052.9" width="72.5" height="20.9" fill="#bd5c00" stroke="#141414" stroke-width="1.9"/>
<rect x="1141.7" y="2044.3" width="72.5" height="8.6" fill="#fd9216" stroke="#141414" stroke-width="1.9"/>
<rect x="1141.7" y="1413.4" width="72.5" height="630.9" fill="#fed95a" stroke="#141414" stroke-width="1.9"/>
<rect x="1141.7" y="1410.0" width="72.5" height="3.4" fill="#d8e66c" stroke="#141414" stroke-width="1.9"/>
<rect x="1141.7" y="1393.2" width="72.5" height="16.8" fill="#8fba4a" stroke="#141414" stroke-width="1.9"/>
<rect x="1141.7" y="1387.0" width="72.5" height="6.2" fill="#4a8c26" stroke="#141414" stroke-width="1.9"/>
<rect x="1141.7" y="1383.2" width="72.5" height="3.8" fill="#005c00" stroke="#141414" stroke-width="1.9"/>
<rect x="1233.3" y="2069.9" width="72.5" height="46.6" fill="#fd9216" stroke="#141414" stroke-width="1.9"/>
<rect x="1233.3" y="2022.6" width="72.5" height="47.3" fill="#fed95a" stroke="#141414" stroke-width="1.9"/>
<rect x="1233.3" y="1452.5" width="72.5" height="570.1" fill="#d8e66c" stroke="#141414" stroke-width="1.9"/>
<rect x="1233.3" y="1415.0" width="72.5" height="37.5" fill="#8fba4a" stroke="#141414" stroke-width="1.9"/>
<rect x="1233.3" y="1406.4" width="72.5" height="8.6" fill="#4a8c26" stroke="#141414" stroke-width="1.9"/>
<rect x="1233.3" y="1383.2" width="72.5" height="23.2" fill="#005c00" stroke="#141414" stroke-width="1.9"/>
<rect x="1324.9" y="2108.0" width="72.5" height="8.5" fill="#5c3a00" stroke="#141414" stroke-width="1.9"/>
<rect x="1324.9" y="2106.5" width="72.5" height="1.5" fill="#bd5c00" stroke="#141414" stroke-width="1.9"/>
<rect x="1324.9" y="2105.0" width="72.5" height="1.5" fill="#fd9216" stroke="#141414" stroke-width="1.9"/>
<rect x="1324.9" y="2104.0" width="72.5" height="1.0" fill="#fed95a" stroke="#141414" stroke-width="1.9"/>
<rect x="1324.9" y="2103.0" width="72.5" height="1.0" fill="#d8e66c" stroke="#141414" stroke-width="1.9"/>
<rect x="1324.9" y="1520.5" width="72.5" height="582.5" fill="#8fba4a" stroke="#141414" stroke-width="1.9"/>
<rect x="1324.9" y="1383.2" width="72.5" height="137.3" fill="#005c00" stroke="#141414" stroke-width="1.9"/>
<rect x="1416.6" y="2115.0" width="72.5" height="1.5" fill="#bd5c00" stroke="#141414" stroke-width="1.9"/>
<rect x="1416.6" y="2103.0" width="72.5" height="12.0" fill="#fd9216" stroke="#141414" stroke-width="1.9"/>
<rect x="1416.6" y="2089.0" width="72.5" height="14.0" fill="#fed95a" stroke="#141414" stroke-width="1.9"/>
<rect x="1416.6" y="2079.7" width="72.5" height="9.3" fill="#d8e66c" stroke="#141414" stroke-width="1.9"/>
<rect x="1416.6" y="2065.7" width="72.5" height="14.0" fill="#8fba4a" stroke="#141414" stroke-width="1.9"/>
<rect x="1416.6" y="1457.0" width="72.5" height="608.7" fill="#4a8c26" stroke="#141414" stroke-width="1.9"/>
<rect x="1416.6" y="1383.2" width="72.5" height="73.8" fill="#005c00" stroke="#141414" stroke-width="1.9"/>
<rect x="1508.2" y="2103.4" width="72.5" height="13.1" fill="#5c3a00" stroke="#141414" stroke-width="1.9"/>
<rect x="1508.2" y="2102.5" width="72.5" height="0.9" fill="#bd5c00" stroke="#141414" stroke-width="1.9"/>
<rect x="1508.2" y="2101.5" width="72.5" height="1.0" fill="#fd9216" stroke="#141414" stroke-width="1.9"/>
<rect x="1508.2" y="2100.0" width="72.5" height="1.5" fill="#fed95a" stroke="#141414" stroke-width="1.9"/>
<rect x="1508.2" y="2098.3" width="72.5" height="1.7" fill="#d8e66c" stroke="#141414" stroke-width="1.9"/>
<rect x="1508.2" y="2054.0" width="72.5" height="44.3" fill="#8fba4a" stroke="#141414" stroke-width="1.9"/>
<rect x="1508.2" y="2044.3" width="72.5" height="9.7" fill="#4a8c26" stroke="#141414" stroke-width="1.9"/>
<rect x="1508.2" y="1383.2" width="72.5" height="661.1" fill="#005c00" stroke="#141414" stroke-width="1.9"/>
<path d="M115.2,1383.2 V2116.5" stroke="#282828" stroke-width="3.0"/>
<path d="M115.2,1383.2 H1581.3 M115.2,2116.5 H1581.3" stroke="#1e1e1e" stroke-width="2.8"/>
<path d="M97.2,2116.5H115.2M105.7,2043.2H115.2M97.2,1969.8H115.2M105.7,1896.5H115.2M97.2,1823.2H115.2M105.7,1749.8H115.2M97.2,1676.5H115.2M105.7,1603.2H115.2M97.2,1529.9H115.2M105.7,1456.5H115.2M97.2,1383.2H115.2" stroke="#282828" stroke-width="2.6"/>
<text x="90.5" y="2124.3" text-anchor="end" font-size="28" font-family="'Liberation Serif','Times New Roman',serif" font-weight="bold">0%</text>
<text x="90.5" y="1977.6" text-anchor="end" font-size="28" font-family="'Liberation Serif','Times New Roman',serif" font-weight="bold">20%</text>
<text x="90.5" y="1831.0" text-anchor="end" font-size="28" font-family="'Liberation Serif','Times New Roman',serif" font-weight="bold">40%</text>
<text x="90.5" y="1684.3" text-anchor="end" font-size="28" font-family="'Liberation Serif','Times New Roman',serif" font-weight="bold">60%</text>
<text x="90.5" y="1537.7" text-anchor="end" font-size="28" font-family="'Liberation Serif','Times New Roman',serif" font-weight="bold">80%</text>
<text x="90.5" y="1391.0" text-anchor="end" font-size="28" font-family="'Liberation Serif','Times New Roman',serif" font-weight="bold">100%</text>
<text transform="translate(166.5,1324.2) rotate(-90)" text-anchor="middle" y="9.8" font-size="29" font-family="'Liberation Serif','Times New Roman',serif" font-weight="bold">SU</text>
<text transform="translate(166.5,2175.7) rotate(-90)" text-anchor="middle" y="9.8" font-size="29" font-family="'Liberation Serif','Times New Roman',serif" font-weight="bold">SU</text>
<text transform="translate(258.1,1324.2) rotate(-90)" text-anchor="middle" y="9.8" font-size="29" font-family="'Liberation Serif','Times New Roman',serif" font-weight="bold">RI</text>
<text transform="translate(258.1,2175.7) rotate(-90)" text-anchor="middle" y="9.8" font-size="29" font-family="'Liberation Serif','Times New Roman',serif" font-weight="bold">RI</text>
<text transform="translate(349.8,1324.2) rotate(-90)" text-anchor="middle" y="9.8" font-size="29" font-family="'Liberation Serif','Times New Roman',serif" font-weight="bold">SP</text>
<text transform="translate(349.8,2175.7) rotate(-90)" text-anchor="middle" y="9.8" font-size="29" font-family="'Liberation Serif','Times New Roman',serif" font-weight="bold">SP</text>
<text transform="translate(441.4,1324.2) rotate(-90)" text-anchor="middle" y="9.8" font-size="29" font-family="'Liberation Serif','Times New Roman',serif" font-weight="bold">OT</text>
<text transform="translate(441.4,2175.7) rotate(-90)" text-anchor="middle" y="9.8" font-size="29" font-family="'Liberation Serif','Times New Roman',serif" font-weight="bold">OT</text>
<text transform="translate(533.0,1324.2) rotate(-90)" text-anchor="middle" y="9.8" font-size="29" font-family="'Liberation Serif','Times New Roman',serif" font-weight="bold">WT-OT</text>
<text transform="translate(533.0,2175.7) rotate(-90)" text-anchor="middle" y="9.8" font-size="29" font-family="'Liberation Serif','Times New Roman',serif" font-weight="bold">WT-OT</text>
<text transform="translate(624.6,1324.2) rotate(-90)" text-anchor="middle" y="9.8" font-size="29" font-family="'Liberation Serif','Times New Roman',serif" font-weight="bold">WT-RI</text>
<text transform="translate(624.6,2175.7) rotate(-90)" text-anchor="middle" y="9.8" font-size="29" font-family="'Liberation Serif','Times New Roman',serif" font-weight="bold">WT-RI</text>
<text transform="translate(716.3,1324.2) rotate(-90)" text-anchor="middle" y="9.8" font-size="29" font-family="'Liberation Serif','Times New Roman',serif" font-weight="bold">WT-SP</text>
<text transform="translate(716.3,2175.7) rotate(-90)" text-anchor="middle" y="9.8" font-size="29" font-family="'Liberation Serif','Times New Roman',serif" font-weight="bold">WT-SP</text>
<text transform="translate(807.9,1324.2) rotate(-90)" text-anchor="middle" y="9.8" font-size="29" font-family="'Liberation Serif','Times New Roman',serif" font-weight="bold">WT-SU</text>
<text transform="translate(807.9,2175.7) rotate(-90)" text-anchor="middle" y="9.8" font-size="29" font-family="'Liberation Serif','Times New Roman',serif" font-weight="bold">WT-SU</text>
<text transform="translate(899.5,1324.2) rotate(-90)" text-anchor="middle" y="9.8" font-size="29" font-family="'Liberation Serif','Times New Roman',serif" font-weight="bold">SU</text>
<text transform="translate(899.5,2175.7) rotate(-90)" text-anchor="middle" y="9.8" font-size="29" font-family="'Liberation Serif','Times New Roman',serif" font-weight="bold">SU</text>
<text transform="translate(991.2,1324.2) rotate(-90)" text-anchor="middle" y="9.8" font-size="29" font-family="'Liberation Serif','Times New Roman',serif" font-weight="bold">RI</text>
<text transform="translate(991.2,2175.7) rotate(-90)" text-anchor="middle" y="9.8" font-size="29" font-family="'Liberation Serif','Times New Roman',serif" font-weight="bold">RI</text>
<text transform="translate(1082.8,1324.2) rotate(-90)" text-anchor="middle" y="9.8" font-size="29" font-family="'Liberation Serif','Times New Roman',serif" font-weight="bold">SP</text>
<text transform="translate(1082.8,2175.7) rotate(-90)" text-anchor="middle" y="9.8" font-size="29" font-family="'Liberation Serif','Times New Roman',serif" font-weight="bold">SP</text>
<text transform="translate(1174.4,1324.2) rotate(-90)" text-anchor="middle" y="9.8" font-size="29" font-family="'Liberation Serif','Times New Roman',serif" font-weight="bold">OT</text>
<text transform="translate(1174.4,2175.7) rotate(-90)" text-anchor="middle" y="9.8" font-size="29" font-family="'Liberation Serif','Times New Roman',serif" font-weight="bold">OT</text>
<text transform="translate(1266.1,1324.2) rotate(-90)" text-anchor="middle" y="9.8" font-size="29" font-family="'Liberation Serif','Times New Roman',serif" font-weight="bold">WT-OT</text>
<text transform="translate(1266.1,2175.7) rotate(-90)" text-anchor="middle" y="9.8" font-size="29" font-family="'Liberation Serif','Times New Roman',serif" font-weight="bold">WT-OT</text>
<text transform="translate(1357.7,1324.2) rotate(-90)" text-anchor="middle" y="9.8" font-size="29" font-family="'Liberation Serif','Times New Roman',serif" font-weight="bold">WT-RI</text>
<text transform="translate(1357.7,2175.7) rotate(-90)" text-anchor="middle" y="9.8" font-size="29" font-family="'Liberation Serif','Times New Roman',serif" font-weight="bold">WT-RI</text>
<text transform="translate(1449.3,1324.2) rotate(-90)" text-anchor="middle" y="9.8" font-size="29" font-family="'Liberation Serif','Times New Roman',serif" font-weight="bold">WT-SP</text>
<text transform="translate(1449.3,2175.7) rotate(-90)" text-anchor="middle" y="9.8" font-size="29" font-family="'Liberation Serif','Times New Roman',serif" font-weight="bold">WT-SP</text>
<text transform="translate(1540.9,1324.2) rotate(-90)" text-anchor="middle" y="9.8" font-size="29" font-family="'Liberation Serif','Times New Roman',serif" font-weight="bold">WT-SU</text>
<text transform="translate(1540.9,2175.7) rotate(-90)" text-anchor="middle" y="9.8" font-size="29" font-family="'Liberation Serif','Times New Roman',serif" font-weight="bold">WT-SU</text>
<text x="487.2" y="1251.1" text-anchor="middle" font-size="28" font-family="'Liberation Serif','Times New Roman',serif" font-weight="bold">PB-CB</text>
<text x="487.2" y="2267.9" text-anchor="middle" font-size="28" font-family="'Liberation Serif','Times New Roman',serif" font-weight="bold">PB-CB</text>
<text x="1220.2" y="1251.1" text-anchor="middle" font-size="28" font-family="'Liberation Serif','Times New Roman',serif" font-weight="bold">PB-CBT</text>
<text x="1220.2" y="2267.9" text-anchor="middle" font-size="28" font-family="'Liberation Serif','Times New Roman',serif" font-weight="bold">PB-CBT</text>
<text x="807.9" y="1185" text-anchor="middle" font-size="43" font-family="'Liberation Serif','Noto Serif CJK SC',serif" font-weight="600">（</text><text x="847.5" y="1186" text-anchor="middle" font-size="46" font-family="'Liberation Serif','Times New Roman',serif" font-weight="bold">a</text><text x="887.6" y="1185" text-anchor="middle" font-size="43" font-family="'Liberation Serif','Noto Serif CJK SC',serif" font-weight="600">）</text>
<text x="807.9" y="2342" text-anchor="middle" font-size="43" font-family="'Liberation Serif','Noto Serif CJK SC',serif" font-weight="600">（</text><text x="850" y="2343" text-anchor="middle" font-size="46" font-family="'Liberation Serif','Times New Roman',serif" font-weight="bold">b</text><text x="889.5" y="2342" text-anchor="middle" font-size="43" font-family="'Liberation Serif','Noto Serif CJK SC',serif" font-weight="600">）</text>
<rect x="25.5" y="2359.3" width="1578.8" height="51.1" fill="#fff" stroke="#a4a4a4" stroke-width="2.4"/>
<rect x="29.8" y="2366.2" width="81.1" height="39.6" rx="1.5" fill="#5c3a00" stroke="#3a3a3a" stroke-width="1.6"/>
<text x="120.3" y="2398" font-size="36" font-family="'Liberation Serif','Times New Roman',serif" font-weight="bold">SU</text>
<rect x="193.5" y="2366.2" width="81.1" height="39.6" rx="1.5" fill="#bd5c00" stroke="#3a3a3a" stroke-width="1.6"/>
<text x="285" y="2398" font-size="36" font-family="'Liberation Serif','Times New Roman',serif" font-weight="bold">RI</text>
<rect x="351.5" y="2366.2" width="81.0" height="39.6" rx="1.5" fill="#fd9216" stroke="#3a3a3a" stroke-width="1.6"/>
<text x="442" y="2398" font-size="36" font-family="'Liberation Serif','Times New Roman',serif" font-weight="bold">SP</text>
<rect x="511" y="2366.2" width="81.0" height="39.6" rx="1.5" fill="#fed95a" stroke="#3a3a3a" stroke-width="1.6"/>
<text x="601.5" y="2398" font-size="36" font-family="'Liberation Serif','Times New Roman',serif" font-weight="bold">OT</text>
<rect x="680" y="2366.2" width="81.0" height="39.6" rx="1.5" fill="#d8e66c" stroke="#3a3a3a" stroke-width="1.6"/>
<text x="773" y="2398" font-size="36" font-family="'Liberation Serif','Times New Roman',serif" font-weight="bold">WT-OT</text>
<rect x="922.4" y="2366.2" width="80.6" height="39.6" rx="1.5" fill="#8fba4a" stroke="#3a3a3a" stroke-width="1.6"/>
<text x="1012" y="2398" font-size="36" font-family="'Liberation Serif','Times New Roman',serif" font-weight="bold">WT-RI</text>
<rect x="1152.3" y="2366.2" width="80.2" height="39.6" rx="1.5" fill="#4a8c26" stroke="#3a3a3a" stroke-width="1.6"/>
<text x="1243" y="2398" font-size="36" font-family="'Liberation Serif','Times New Roman',serif" font-weight="bold">WT-SP</text>
<rect x="1383.9" y="2366.2" width="80.7" height="39.6" rx="1.5" fill="#005c00" stroke="#3a3a3a" stroke-width="1.6"/>
<text x="1476.7" y="2398" font-size="36" font-family="'Liberation Serif','Times New Roman',serif" font-weight="bold">WT-SU</text>
</svg>
</body></html>
